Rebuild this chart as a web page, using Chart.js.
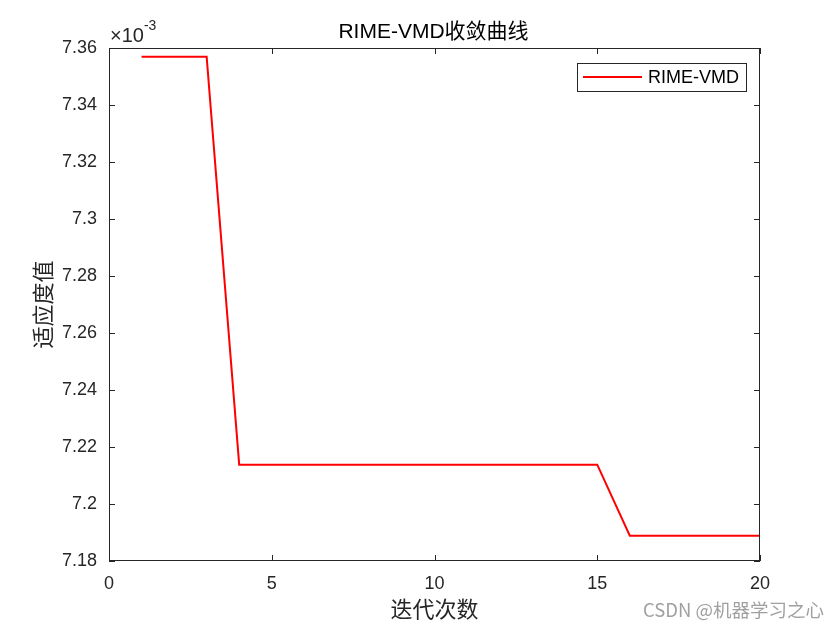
<!DOCTYPE html>
<html>
<head>
<meta charset="utf-8">
<script src="https://cdn.jsdelivr.net/npm/chart.js@4"></script>
<style>
html,body{margin:0;padding:0;background:#fff;}
#wrap{width:840px;height:630px;position:relative;}
</style>
</head>
<body>
<div id="wrap"><canvas id="c" width="840" height="630"></canvas></div>
<script>
const iterations = [1,2,3,4,5,6,7,8,9,10,11,12,13,14,15,16,17,18,19,20];
const fitness = [7.3569,7.3569,7.3569,7.2138,7.2138,7.2138,7.2138,7.2138,7.2138,7.2138,7.2138,7.2138,7.2138,7.2138,7.2138,7.1889,7.1889,7.1889,7.1889,7.1889];
const seriesName = 'RIME-VMD';
const chartTitle = 'RIME-VMD收敛曲线';
const xTitle = '迭代次数';
const yTitle = '适应度值';
const exponentLabel = '-3';
const watermark = 'CSDN @机器学习之心';

const FONT = '"Liberation Sans", Arial, sans-serif';
const CJK = '"Noto Sans CJK SC", sans-serif';

const decor = {
  id: 'decor',
  afterDraw(chart) {
    const ctx = chart.ctx;
    const a = chart.chartArea;
    const xs = chart.scales.x, ys = chart.scales.y;
    ctx.save();
    // box
    ctx.strokeStyle = '#262626';
    ctx.lineWidth = 1;
    ctx.strokeRect(Math.round(a.left) + 0.5, Math.round(a.top) + 0.5, Math.round(a.right - a.left) - 1, Math.round(a.bottom - a.top) - 1);
    // ticks inward
    const tl = 6;
    ctx.beginPath();
    xs.ticks.forEach(t => {
      const px = Math.round(xs.getPixelForValue(t.value)) + 0.5;
      ctx.moveTo(px, a.bottom); ctx.lineTo(px, a.bottom - tl);
      ctx.moveTo(px, a.top); ctx.lineTo(px, a.top + tl);
    });
    ys.ticks.forEach(t => {
      const py = Math.round(ys.getPixelForValue(t.value)) + 0.5;
      ctx.moveTo(a.left, py); ctx.lineTo(a.left + tl, py);
      ctx.moveTo(a.right, py); ctx.lineTo(a.right - tl, py);
    });
    ctx.stroke();
    // title
    ctx.fillStyle = '#000';
    ctx.textAlign = 'center';
    ctx.textBaseline = 'middle';
    ctx.font = '21px "Liberation Sans", "Noto Sans CJK SC", sans-serif';
    ctx.fillText(chartTitle, (a.left + a.right) / 2 - 1, 32);
    // x title
    ctx.fillStyle = '#262626';
    ctx.font = '22px ' + CJK;
    ctx.fillText(xTitle, (a.left + a.right) / 2, 609);
    // y title
    ctx.save();
    ctx.translate(43, (a.top + a.bottom) / 2);
    ctx.rotate(-Math.PI / 2);
    ctx.fillText(yTitle, 0, 0);
    ctx.restore();
    // exponent
    ctx.textAlign = 'left';
    ctx.textBaseline = 'alphabetic';
    ctx.font = '20px ' + FONT;
    ctx.fillText('\u00d710', 110, 42);
    const w = ctx.measureText('\u00d710').width;
    ctx.font = '14px ' + FONT;
    ctx.fillText(exponentLabel, 110 + w, 30);
    // legend
    const lx = 577, ly = 63, lw = 169, lh = 28;
    ctx.fillStyle = '#fff';
    ctx.fillRect(lx, ly, lw, lh);
    ctx.strokeStyle = '#262626';
    ctx.lineWidth = 1;
    ctx.strokeRect(lx + 0.5, ly + 0.5, lw, lh);
    ctx.strokeStyle = '#ff0000';
    ctx.lineWidth = 2;
    ctx.beginPath();
    ctx.moveTo(583, 77); ctx.lineTo(642, 77);
    ctx.stroke();
    ctx.fillStyle = '#000';
    ctx.font = '18px ' + FONT;
    ctx.textBaseline = 'middle';
    ctx.fillText(chart.data.datasets[0].label, 648, 78);
    // watermark
    ctx.font = '18.5px "Noto Sans CJK SC", sans-serif';
    ctx.textAlign = 'right';
    ctx.fillStyle = 'rgba(150,150,150,0.9)';
    ctx.fillText(watermark, 824, 610);
    ctx.restore();
  }
};

new Chart(document.getElementById('c'), {
  type: 'line',
  data: {
    datasets: [{
      label: seriesName,
      data: iterations.map((x, i) => ({x: x, y: fitness[i]})),
      borderColor: '#ff0000',
      borderWidth: 2,
      pointRadius: 0,
      tension: 0,
      fill: false
    }]
  },
  options: {
    responsive: false,
    animation: false,
    devicePixelRatio: 1,
    layout: {padding: {left: 0, right: 80, top: 48, bottom: 0}},
    plugins: {legend: {display: false}, tooltip: {enabled: false}, title: {display: false}},
    scales: {
      x: {
        type: 'linear', min: 0, max: 20,
        ticks: {stepSize: 5, color: '#262626', font: {family: FONT, size: 18}, padding: 4, maxRotation: 0},
        grid: {display: false},
        border: {display: false},
        afterFit(s) { s.height = 69; }
      },
      y: {
        type: 'linear', min: 7.18, max: 7.36,
        ticks: {stepSize: 0.02, color: '#262626', font: {family: FONT, size: 18}, padding: 4,
          callback: v => String(Number(v.toFixed(2)))},
        grid: {display: false},
        border: {display: false},
        afterFit(s) { s.width = 109; }
      }
    }
  },
  plugins: [decor]
});
</script>
</body>
</html>
